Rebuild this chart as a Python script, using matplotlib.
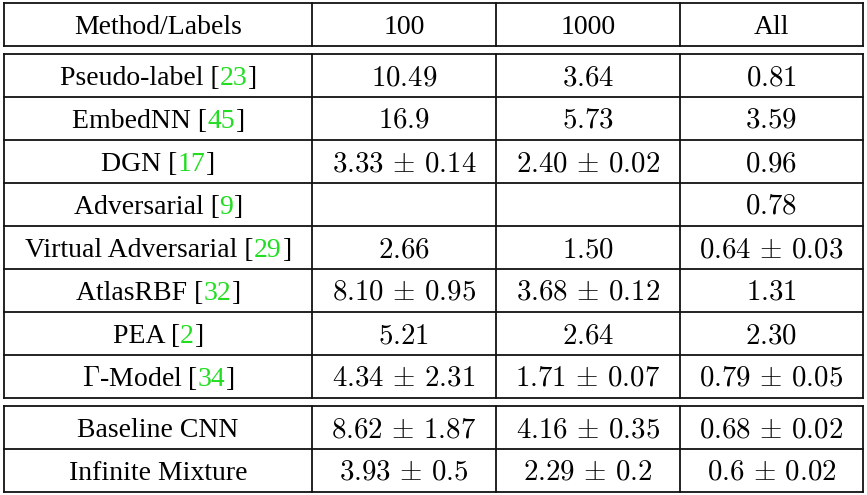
import matplotlib.pyplot as plt

plt.rcParams['mathtext.fontset'] = 'cm'
plt.rcParams['font.family'] = ['Liberation Serif', 'DejaVu Serif']

headers = ["Method/Labels", "100", "1000", "All"]
methods = ["Pseudo-label", "EmbedNN", "DGN", "Adversarial", "Virtual Adversarial",
           "AtlasRBF", "PEA", r"$\Gamma$-Model", "Baseline CNN", "Infinite Mixture"]
refs = ["23", "45", "17", "9", "29", "32", "2", "34", None, None]
err_100 = ["10.49", "16.9", r"3.33 \pm 0.14", "", "2.66", r"8.10 \pm 0.95", "5.21",
           r"4.34 \pm 2.31", r"8.62 \pm 1.87", r"3.93 \pm 0.5"]
err_1000 = ["3.64", "5.73", r"2.40 \pm 0.02", "", "1.50", r"3.68 \pm 0.12", "2.64",
            r"1.71 \pm 0.07", r"4.16 \pm 0.35", r"2.29 \pm 0.2"]
err_all = ["0.81", "3.59", "0.96", "0.78", r"0.64 \pm 0.03", "1.31", "2.30",
           r"0.79 \pm 0.05", r"0.68 \pm 0.02", r"0.6 \pm 0.02"]

cite_green = '#22dd22'
text_size = 20
math_size = 20.8

fig = plt.figure(figsize=(8.67, 4.95), dpi=100)
ax = fig.add_axes([0, 0, 1, 1])
ax.set_xlim(0, 867)
ax.set_ylim(495, 0)
ax.axis('off')

col_x = [4, 312, 496, 680, 863]
row_h = 43
gap = 8
# three boxed blocks: header, prior methods, ours
blocks = [(3, 1), (3 + row_h + gap, 8), (3 + row_h + gap + 8 * row_h + gap, 2)]

row_centers = []
for top, n in blocks:
    bottom = top + n * row_h
    for i in range(n + 1):
        ax.plot([col_x[0], col_x[-1]], [top + i * row_h] * 2, color='#111111', lw=1.3,
                solid_capstyle='projecting')
    for x in col_x:
        ax.plot([x, x], [top, bottom], color='#111111', lw=1.3, solid_capstyle='projecting')
    row_centers += [top + row_h * (i + 0.5) for i in range(n)]

fig.canvas.draw()
renderer = fig.canvas.get_renderer()


def put(cx, cy, segments, size):
    texts = []
    for s, c in segments:
        texts.append(ax.text(0, cy + 9.5, s, color=c, fontsize=size,
                             ha='left', va='baseline'))
    widths = [t.get_window_extent(renderer).width for t in texts]
    x = cx - sum(widths) / 2
    for t, w in zip(texts, widths):
        t.set_x(x)
        x += w


for j, h in enumerate(headers):
    put((col_x[j] + col_x[j + 1]) / 2, row_centers[0], [(h, 'black')], text_size)

for i, m in enumerate(methods):
    cy = row_centers[i + 1]
    if refs[i] is not None:
        segs = [(m + " [", 'black'), (refs[i], cite_green), ("]", 'black')]
    else:
        segs = [(m, 'black')]
    put((col_x[0] + col_x[1]) / 2, cy, segs, text_size)
    for j, col in enumerate([err_100, err_1000, err_all]):
        if col[i]:
            val = col[i].replace(r" \pm ", r"\,\pm\,")
            put((col_x[j + 1] + col_x[j + 2]) / 2, cy, [("$" + val + "$", 'black')], math_size)

fig.savefig('out.png', dpi=100)
